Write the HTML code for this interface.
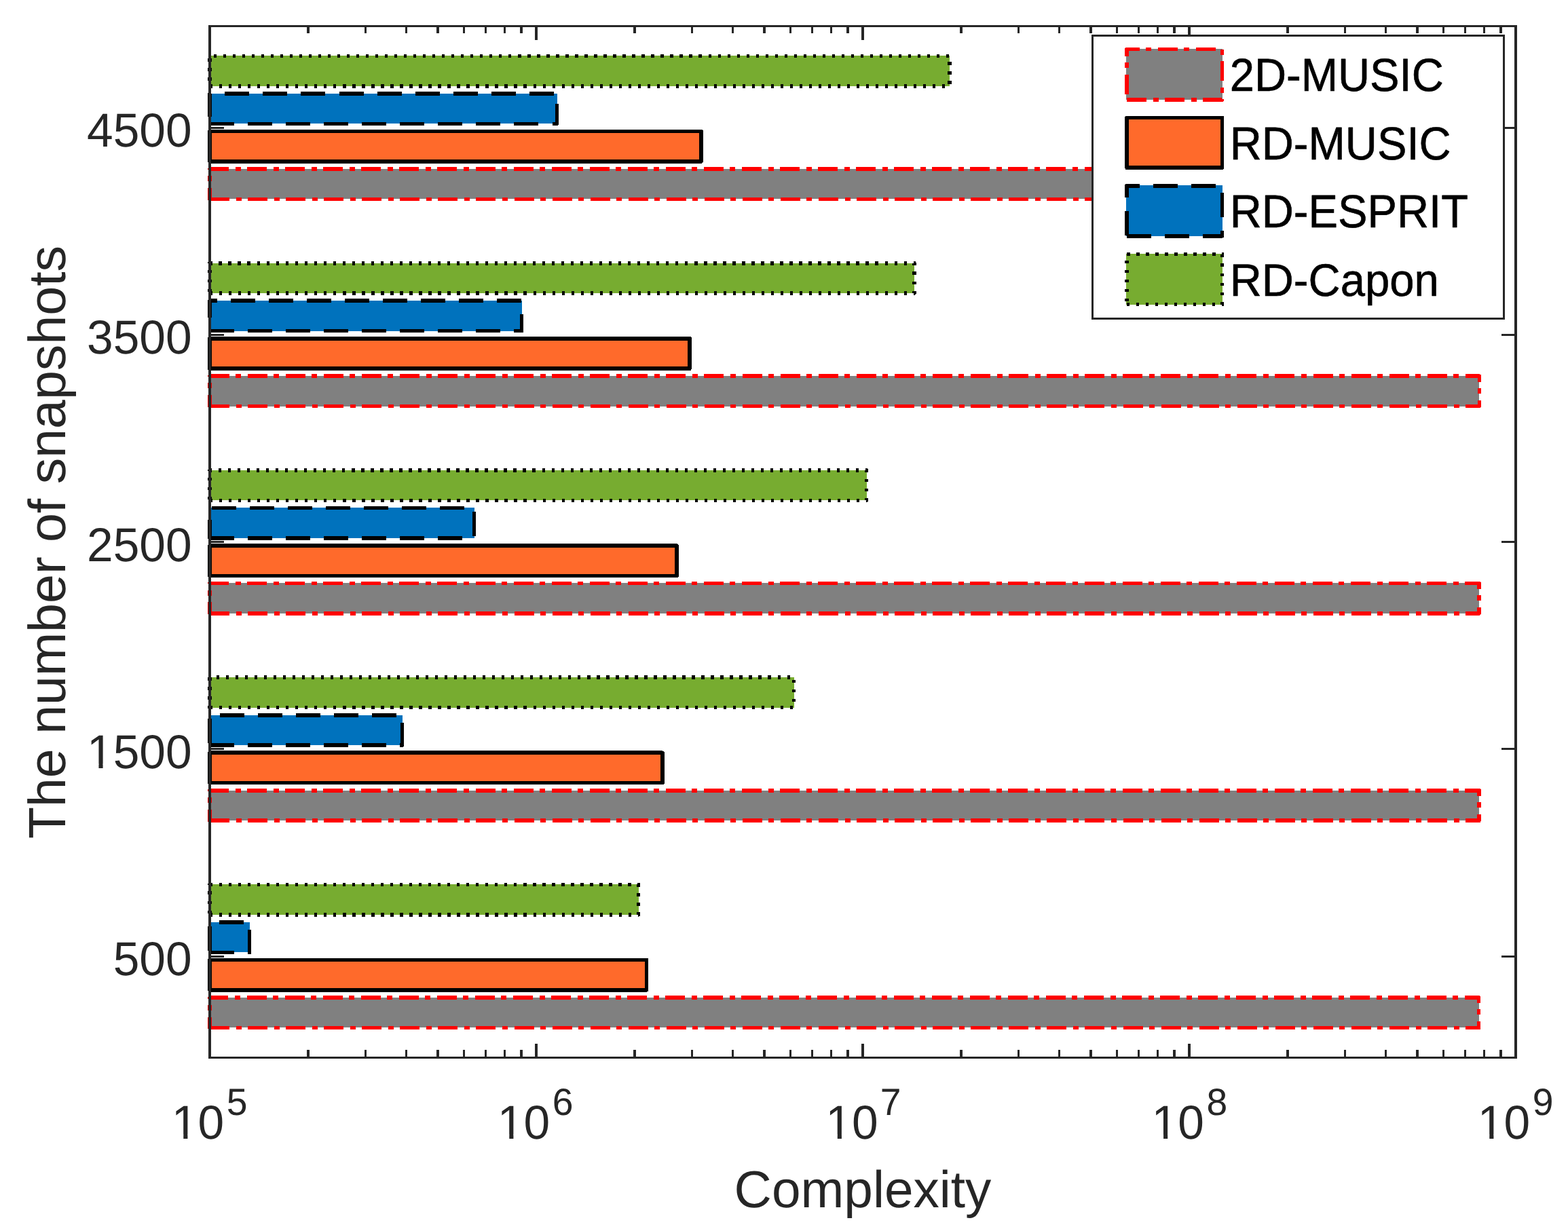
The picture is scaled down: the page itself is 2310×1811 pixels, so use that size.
<!DOCTYPE html>
<html lang="en">
<head>
<meta charset="utf-8">
<title>Complexity versus the number of snapshots</title>
<style>
html,body{margin:0;padding:0;background:#ffffff;}
body{width:2310px;height:1811px;overflow:hidden;}
svg{display:block;}
</style>
</head>
<body>
<svg width="2310" height="1811" viewBox="0 0 2310 1811" role="img" aria-label="Horizontal bar chart: complexity versus the number of snapshots">
<rect width="2310" height="1811" fill="#ffffff"/>
<g stroke-linejoin="round" stroke-linecap="butt" shape-rendering="crispEdges">
<rect x="309" y="248.98" width="1870" height="44.4" fill="#808080"/><path d="M309 293.38H2179V248.98H309Z" fill="none" stroke="#FF0000" stroke-width="5.55" stroke-dasharray="29 9.5 8 9.565"/>
<rect x="309" y="193.48" width="724.1" height="44.4" fill="#FF6A2B"/><path d="M309 237.88H1033.1V193.48H309Z" fill="none" stroke="#000000" stroke-width="5.55"/>
<rect x="309" y="137.98" width="511.5" height="44.4" fill="#0072BD"/><path d="M309 182.38H820.5V137.98H309Z" fill="none" stroke="#000000" stroke-width="5.55" stroke-dasharray="36 20.06"/>
<rect x="309" y="82.48" width="1090" height="44.4" fill="#77AC30"/><path d="M309 126.88H1399V82.48H309Z" fill="none" stroke="#000000" stroke-width="5.55" stroke-dasharray="4.3 9.715"/>
<rect x="309" y="554.23" width="1870.3" height="44.4" fill="#808080"/><path d="M309 598.63H2179.3V554.23H309Z" fill="none" stroke="#FF0000" stroke-width="5.55" stroke-dasharray="29 9.5 8 9.565"/>
<rect x="309" y="498.73" width="707" height="44.4" fill="#FF6A2B"/><path d="M309 543.13H1016V498.73H309Z" fill="none" stroke="#000000" stroke-width="5.55"/>
<rect x="309" y="443.23" width="459.7" height="44.4" fill="#0072BD"/><path d="M309 487.63H768.7V443.23H309Z" fill="none" stroke="#000000" stroke-width="5.55" stroke-dasharray="36 20.06"/>
<rect x="309" y="387.73" width="1037.8" height="44.4" fill="#77AC30"/><path d="M309 432.13H1346.8V387.73H309Z" fill="none" stroke="#000000" stroke-width="5.55" stroke-dasharray="4.3 9.715"/>
<rect x="309" y="859.48" width="1870" height="44.4" fill="#808080"/><path d="M309 903.88H2179V859.48H309Z" fill="none" stroke="#FF0000" stroke-width="5.55" stroke-dasharray="29 9.5 8 9.565"/>
<rect x="309" y="803.98" width="688" height="44.4" fill="#FF6A2B"/><path d="M309 848.38H997V803.98H309Z" fill="none" stroke="#000000" stroke-width="5.55"/>
<rect x="309" y="748.48" width="389.5" height="44.4" fill="#0072BD"/><path d="M309 792.88H698.5V748.48H309Z" fill="none" stroke="#000000" stroke-width="5.55" stroke-dasharray="36 20.06"/>
<rect x="309" y="692.98" width="967.5" height="44.4" fill="#77AC30"/><path d="M309 737.38H1276.5V692.98H309Z" fill="none" stroke="#000000" stroke-width="5.55" stroke-dasharray="4.3 9.715"/>
<rect x="309" y="1164.73" width="1870" height="44.4" fill="#808080"/><path d="M309 1209.13H2179V1164.73H309Z" fill="none" stroke="#FF0000" stroke-width="5.55" stroke-dasharray="29 9.5 8 9.565"/>
<rect x="309" y="1109.23" width="667.1" height="44.4" fill="#FF6A2B"/><path d="M309 1153.63H976.1V1109.23H309Z" fill="none" stroke="#000000" stroke-width="5.55"/>
<rect x="309" y="1053.73" width="283.5" height="44.4" fill="#0072BD"/><path d="M309 1098.13H592.5V1053.73H309Z" fill="none" stroke="#000000" stroke-width="5.55" stroke-dasharray="36 20.06"/>
<rect x="309" y="998.23" width="860.7" height="44.4" fill="#77AC30"/><path d="M309 1042.63H1169.7V998.23H309Z" fill="none" stroke="#000000" stroke-width="5.55" stroke-dasharray="4.3 9.715"/>
<rect x="309" y="1469.98" width="1869.7" height="44.4" fill="#808080"/><path d="M309 1514.38H2178.7V1469.98H309Z" fill="none" stroke="#FF0000" stroke-width="5.55" stroke-dasharray="29 9.5 8 9.565"/>
<rect x="309" y="1414.48" width="643.4" height="44.4" fill="#FF6A2B"/><path d="M309 1458.88H952.4V1414.48H309Z" fill="none" stroke="#000000" stroke-width="5.55"/>
<rect x="309" y="1358.98" width="58.7" height="44.4" fill="#0072BD"/><path d="M309 1403.38H367.7V1358.98H309Z" fill="none" stroke="#000000" stroke-width="5.55" stroke-dasharray="36 20.06"/>
<rect x="309" y="1303.48" width="631.5" height="44.4" fill="#77AC30"/><path d="M309 1347.88H940.5V1303.48H309Z" fill="none" stroke="#000000" stroke-width="5.55" stroke-dasharray="4.3 9.715"/>
</g>
<g fill="#262626" shape-rendering="crispEdges">
<rect x="307" y="37" width="1928" height="3"/>
<rect x="307" y="1557" width="1928" height="3"/>
<rect x="307" y="37" width="4" height="1523"/>
<rect x="2231" y="37" width="4" height="1523"/>
<rect x="452.06" y="38.5" width="3.47" height="10.5"/>
<rect x="452.06" y="1547" width="3.47" height="11.5"/>
<rect x="536.76" y="38.5" width="3.47" height="10.5"/>
<rect x="536.76" y="1547" width="3.47" height="11.5"/>
<rect x="596.86" y="38.5" width="3.47" height="10.5"/>
<rect x="596.86" y="1547" width="3.47" height="11.5"/>
<rect x="643.47" y="38.5" width="3.47" height="10.5"/>
<rect x="643.47" y="1547" width="3.47" height="11.5"/>
<rect x="681.56" y="38.5" width="3.47" height="10.5"/>
<rect x="681.56" y="1547" width="3.47" height="11.5"/>
<rect x="713.76" y="38.5" width="3.47" height="10.5"/>
<rect x="713.76" y="1547" width="3.47" height="11.5"/>
<rect x="741.65" y="38.5" width="3.47" height="10.5"/>
<rect x="741.65" y="1547" width="3.47" height="11.5"/>
<rect x="766.26" y="38.5" width="3.47" height="10.5"/>
<rect x="766.26" y="1547" width="3.47" height="11.5"/>
<rect x="788.26" y="38.5" width="3.47" height="20.5"/>
<rect x="788.26" y="1538" width="3.47" height="20.5"/>
<rect x="933.06" y="38.5" width="3.47" height="10.5"/>
<rect x="933.06" y="1547" width="3.47" height="11.5"/>
<rect x="1017.76" y="38.5" width="3.47" height="10.5"/>
<rect x="1017.76" y="1547" width="3.47" height="11.5"/>
<rect x="1077.86" y="38.5" width="3.47" height="10.5"/>
<rect x="1077.86" y="1547" width="3.47" height="11.5"/>
<rect x="1124.47" y="38.5" width="3.47" height="10.5"/>
<rect x="1124.47" y="1547" width="3.47" height="11.5"/>
<rect x="1162.56" y="38.5" width="3.47" height="10.5"/>
<rect x="1162.56" y="1547" width="3.47" height="11.5"/>
<rect x="1194.76" y="38.5" width="3.47" height="10.5"/>
<rect x="1194.76" y="1547" width="3.47" height="11.5"/>
<rect x="1222.65" y="38.5" width="3.47" height="10.5"/>
<rect x="1222.65" y="1547" width="3.47" height="11.5"/>
<rect x="1247.26" y="38.5" width="3.47" height="10.5"/>
<rect x="1247.26" y="1547" width="3.47" height="11.5"/>
<rect x="1269.27" y="38.5" width="3.47" height="20.5"/>
<rect x="1269.27" y="1538" width="3.47" height="20.5"/>
<rect x="1414.06" y="38.5" width="3.47" height="10.5"/>
<rect x="1414.06" y="1547" width="3.47" height="11.5"/>
<rect x="1498.76" y="38.5" width="3.47" height="10.5"/>
<rect x="1498.76" y="1547" width="3.47" height="11.5"/>
<rect x="1558.86" y="38.5" width="3.47" height="10.5"/>
<rect x="1558.86" y="1547" width="3.47" height="11.5"/>
<rect x="1605.47" y="38.5" width="3.47" height="10.5"/>
<rect x="1605.47" y="1547" width="3.47" height="11.5"/>
<rect x="1643.56" y="38.5" width="3.47" height="10.5"/>
<rect x="1643.56" y="1547" width="3.47" height="11.5"/>
<rect x="1675.76" y="38.5" width="3.47" height="10.5"/>
<rect x="1675.76" y="1547" width="3.47" height="11.5"/>
<rect x="1703.65" y="38.5" width="3.47" height="10.5"/>
<rect x="1703.65" y="1547" width="3.47" height="11.5"/>
<rect x="1728.26" y="38.5" width="3.47" height="10.5"/>
<rect x="1728.26" y="1547" width="3.47" height="11.5"/>
<rect x="1750.27" y="38.5" width="3.47" height="20.5"/>
<rect x="1750.27" y="1538" width="3.47" height="20.5"/>
<rect x="1895.06" y="38.5" width="3.47" height="10.5"/>
<rect x="1895.06" y="1547" width="3.47" height="11.5"/>
<rect x="1979.76" y="38.5" width="3.47" height="10.5"/>
<rect x="1979.76" y="1547" width="3.47" height="11.5"/>
<rect x="2039.86" y="38.5" width="3.47" height="10.5"/>
<rect x="2039.86" y="1547" width="3.47" height="11.5"/>
<rect x="2086.47" y="38.5" width="3.47" height="10.5"/>
<rect x="2086.47" y="1547" width="3.47" height="11.5"/>
<rect x="2124.56" y="38.5" width="3.47" height="10.5"/>
<rect x="2124.56" y="1547" width="3.47" height="11.5"/>
<rect x="2156.76" y="38.5" width="3.47" height="10.5"/>
<rect x="2156.76" y="1547" width="3.47" height="11.5"/>
<rect x="2184.65" y="38.5" width="3.47" height="10.5"/>
<rect x="2184.65" y="1547" width="3.47" height="11.5"/>
<rect x="2209.26" y="38.5" width="3.47" height="10.5"/>
<rect x="2209.26" y="1547" width="3.47" height="11.5"/>
<rect x="309" y="186.73" width="21" height="3"/>
<rect x="2212" y="186.73" width="21" height="3"/>
<rect x="309" y="491.98" width="21" height="3"/>
<rect x="2212" y="491.98" width="21" height="3"/>
<rect x="309" y="797.23" width="21" height="3"/>
<rect x="2212" y="797.23" width="21" height="3"/>
<rect x="309" y="1102.48" width="21" height="3"/>
<rect x="2212" y="1102.48" width="21" height="3"/>
<rect x="309" y="1407.73" width="21" height="3"/>
<rect x="2212" y="1407.73" width="21" height="3"/>
</g>
<g font-family="'Liberation Sans', sans-serif" fill="#262626" text-rendering="geometricPrecision">
<text transform="translate(282.6 216.13) scale(1 1.01)" font-size="69.5" text-anchor="end">4500</text>
<text transform="translate(282.6 521.38) scale(1 1.01)" font-size="69.5" text-anchor="end">3500</text>
<text transform="translate(282.6 826.63) scale(1 1.01)" font-size="69.5" text-anchor="end">2500</text>
<text transform="translate(282.6 1131.88) scale(1 1.01)" font-size="69.5" text-anchor="end">1500</text>
<text transform="translate(282.6 1437.13) scale(1 1.01)" font-size="69.5" text-anchor="end">500</text>
<text transform="translate(252.8 1678) scale(1 1.01)" font-size="69.5">10<tspan x="81" y="-34.46" font-size="55.3">5</tspan></text>
<text transform="translate(732.8 1678) scale(1 1.01)" font-size="69.5">10<tspan x="81" y="-34.46" font-size="55.3">6</tspan></text>
<text transform="translate(1216.3 1678) scale(1 1.01)" font-size="69.5">10<tspan x="80.5" y="-34.46" font-size="55.3">7</tspan></text>
<text transform="translate(1696.6 1678) scale(1 1.01)" font-size="69.5">10<tspan x="81" y="-34.46" font-size="55.3">8</tspan></text>
<text transform="translate(2176.8 1678) scale(1 1.01)" font-size="69.5">10<tspan x="81" y="-34.46" font-size="55.3">9</tspan></text>
<rect x="131.78" y="1125.64" width="13.68" height="7.24" fill="#ffffff"/><rect x="151.61" y="1125.64" width="13.14" height="7.24" fill="#ffffff"/>
<rect x="256.59" y="1671.76" width="13.68" height="7.24" fill="#ffffff"/><rect x="276.42" y="1671.76" width="13.14" height="7.24" fill="#ffffff"/>
<rect x="736.59" y="1671.76" width="13.68" height="7.24" fill="#ffffff"/><rect x="756.42" y="1671.76" width="13.14" height="7.24" fill="#ffffff"/>
<rect x="1220.09" y="1671.76" width="13.68" height="7.24" fill="#ffffff"/><rect x="1239.92" y="1671.76" width="13.14" height="7.24" fill="#ffffff"/>
<rect x="1700.39" y="1671.76" width="13.68" height="7.24" fill="#ffffff"/><rect x="1720.22" y="1671.76" width="13.14" height="7.24" fill="#ffffff"/>
<rect x="2180.59" y="1671.76" width="13.68" height="7.24" fill="#ffffff"/><rect x="2200.42" y="1671.76" width="13.14" height="7.24" fill="#ffffff"/>
<text x="1271" y="1779.2" font-size="76.6" text-anchor="middle">Complexity</text>
<text transform="translate(95.8 799) rotate(-90)" font-size="77.1" text-anchor="middle">The number of snapshots</text>
</g>
<rect x="1609.5" y="52.5" width="606" height="417" fill="#ffffff" stroke="#262626" stroke-width="3" shape-rendering="crispEdges"/>
<g stroke-linejoin="round" stroke-linecap="butt" shape-rendering="crispEdges">
<rect x="1659.2" y="72" width="141.8" height="75.1" fill="#808080"/><path d="M1660 147H1800.4V72.7H1660Z" fill="none" stroke="#FF0000" stroke-width="5.55" stroke-dasharray="29 9.5 8 9.565"/>
<rect x="1659.2" y="172.7" width="141.8" height="74.5" fill="#FF6A2B"/><path d="M1660 247.1H1800.4V173.4H1660Z" fill="none" stroke="#000000" stroke-width="5.55"/>
<rect x="1659.2" y="273.1" width="141.8" height="74.9" fill="#0072BD"/><path d="M1660 347.9H1800.4V273.8H1660Z" fill="none" stroke="#000000" stroke-width="5.55" stroke-dasharray="36 20.06"/>
<rect x="1659.2" y="373.8" width="141.8" height="74.9" fill="#77AC30"/><path d="M1660 448.6H1800.4V374.5H1660Z" fill="none" stroke="#000000" stroke-width="5.55" stroke-dasharray="4.3 9.715"/>
</g>
<g font-family="'Liberation Sans', sans-serif" fill="#000000" stroke="#000000" stroke-width="0.6" stroke-linejoin="round" font-size="65.2" text-rendering="geometricPrecision">
<text transform="translate(1811.7 134.1) scale(1 1.05)">2D-MUSIC</text>
<text transform="translate(1811.7 235.1) scale(1 1.05)">RD-MUSIC</text>
<text transform="translate(1811.7 335.1) scale(1 1.05)">RD-ESPRIT</text>
<text transform="translate(1811.7 436.1) scale(1 1.03)">RD-Capon</text>
</g>
</svg>
</body>
</html>
